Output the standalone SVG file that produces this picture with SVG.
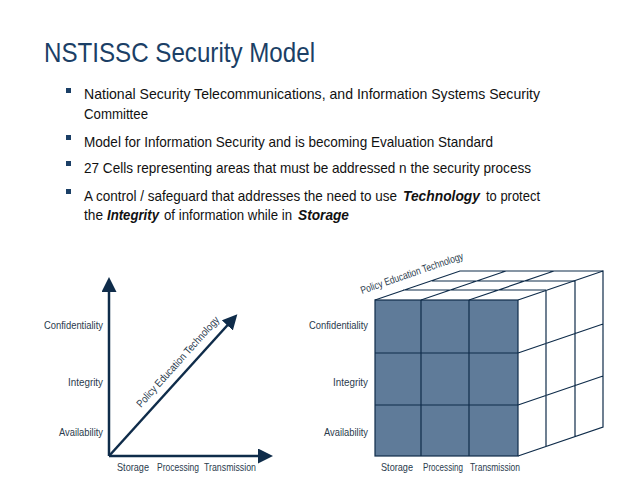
<svg xmlns="http://www.w3.org/2000/svg" width="638" height="479" viewBox="0 0 638 479">
<style>
.t{font-family:"Liberation Sans",Arial,sans-serif;font-size:15px;fill:#111}
.b{font-weight:bold;font-style:italic}
.l{font-family:"Liberation Sans",Arial,sans-serif;font-size:10.5px;fill:#2a3b4d}
.ax{stroke:#0f2c4a;stroke-width:2.5;fill:none}
.g{stroke:#0f2c4a;stroke-width:1.2;fill:none}
.f{fill:#5f7b99;stroke:#0f2c4a;stroke-width:1.2}
</style>
<defs><marker id="ah" markerWidth="6" markerHeight="6" refX="4" refY="3" orient="auto" markerUnits="strokeWidth"><path d="M0,0L6,3L0,6z" fill="#0f2c4a"/></marker></defs>
<rect width="638" height="479" fill="#fff"/>
<g id="title"><text x="44" y="62" font-family="Liberation Sans,sans-serif" font-size="28" fill="#1b3f66" textLength="271" lengthAdjust="spacingAndGlyphs">NSTISSC Security Model</text></g>
<g id="bullets">
<rect x="66" y="88" width="5" height="5" fill="#1b3f66"/>
<rect x="66" y="135" width="5" height="5" fill="#1b3f66"/>
<rect x="66" y="161" width="5" height="5" fill="#1b3f66"/>
<rect x="66" y="189" width="5" height="5" fill="#1b3f66"/>
<text class="t" x="84" y="99" textLength="456" lengthAdjust="spacingAndGlyphs">National Security Telecommunications, and Information Systems Security</text>
<text class="t" x="84" y="119" textLength="64" lengthAdjust="spacingAndGlyphs">Committee</text>
<text class="t" x="84" y="147" textLength="409" lengthAdjust="spacingAndGlyphs">Model for Information Security and is becoming Evaluation Standard</text>
<text class="t" x="84" y="173" textLength="447" lengthAdjust="spacingAndGlyphs">27 Cells representing areas that must be addressed n the security process</text>
<text class="t" x="84" y="201" textLength="313" lengthAdjust="spacingAndGlyphs">A control / safeguard that addresses the need to use</text>
<text class="t b" x="403" y="201" textLength="77" lengthAdjust="spacingAndGlyphs">Technology</text>
<text class="t" x="486" y="201" textLength="54" lengthAdjust="spacingAndGlyphs">to protect</text>
<text class="t" x="84" y="220" textLength="19" lengthAdjust="spacingAndGlyphs">the</text>
<text class="t b" x="107" y="220" textLength="52" lengthAdjust="spacingAndGlyphs">Integrity</text>
<text class="t" x="164" y="220" textLength="128" lengthAdjust="spacingAndGlyphs">of information while in</text>
<text class="t b" x="298" y="220" textLength="51" lengthAdjust="spacingAndGlyphs">Storage</text>
</g>
<g id="axes">
<line class="ax" x1="109" y1="456" x2="109" y2="282" marker-end="url(#ah)"/>
<line class="ax" x1="109" y1="456" x2="268" y2="456" marker-end="url(#ah)"/>
<line class="ax" x1="109" y1="456" x2="234" y2="318" marker-end="url(#ah)"/>
<g class="l" text-anchor="end">
<text x="103" y="329" textLength="59" lengthAdjust="spacingAndGlyphs">Confidentiality</text>
<text x="103" y="386" textLength="35" lengthAdjust="spacingAndGlyphs">Integrity</text>
<text x="103" y="436" textLength="44" lengthAdjust="spacingAndGlyphs">Availability</text>
</g>
<text class="l" x="117" y="471" textLength="32" lengthAdjust="spacingAndGlyphs">Storage</text>
<text class="l" x="157" y="471" textLength="42" lengthAdjust="spacingAndGlyphs">Processing</text>
<text class="l" x="204" y="471" textLength="52" lengthAdjust="spacingAndGlyphs">Transmission</text>
<text class="l" x="0" y="0" transform="translate(141,408) rotate(-48)" textLength="118" lengthAdjust="spacingAndGlyphs">Policy Education Technology</text>
</g>
<g id="cube">
<rect class="f" x="375" y="300" width="143" height="156"/>
<path class="g" d="M421,300V456M469,300V456M375,353H518M375,405H518"/>
<path class="g" d="M518,300L603,271L603,427L518,456M546,290V446M575,281V437M518,353L603,324M518,405L603,376"/>
<path class="g" d="M375,300L460,271H603M421,300L506,271M469,300L554,271M403,290H546M432,281H575"/>
<g class="l" text-anchor="end">
<text x="368" y="329" textLength="59" lengthAdjust="spacingAndGlyphs">Confidentiality</text>
<text x="368" y="386" textLength="35" lengthAdjust="spacingAndGlyphs">Integrity</text>
<text x="368" y="436" textLength="44" lengthAdjust="spacingAndGlyphs">Availability</text>
</g>
<g class="l" text-anchor="middle">
<text x="397" y="471" textLength="32" lengthAdjust="spacingAndGlyphs">Storage</text>
<text x="443" y="471" textLength="40" lengthAdjust="spacingAndGlyphs">Processing</text>
<text x="495" y="471" textLength="50" lengthAdjust="spacingAndGlyphs">Transmission</text>
</g>
<text class="l" x="0" y="0" transform="translate(362,294) rotate(-19)" textLength="108" lengthAdjust="spacingAndGlyphs">Policy Education Technology</text>
</g>
</svg>
